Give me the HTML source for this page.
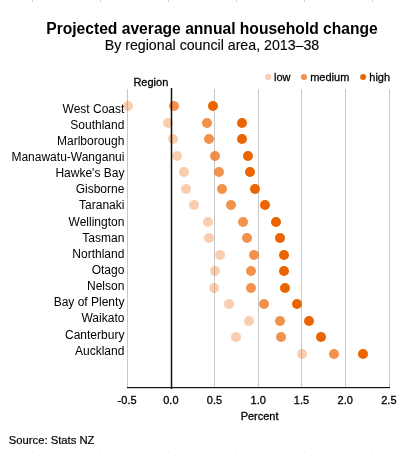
<!DOCTYPE html>
<html><head><meta charset="utf-8"><style>
html,body{margin:0;padding:0;background:#fff;}
body{width:406px;height:453px;overflow:hidden;position:relative;}
svg{position:absolute;left:0;top:0;will-change:transform;}
text{font-family:"Liberation Sans",sans-serif;fill:#000;}
</style></head><body>
<svg width="406" height="453" viewBox="0 0 406 453">

<rect x="32" y="0" width="1" height="2" fill="#d0d0d0"/>
<rect x="32" y="452" width="1" height="1" fill="#ddd"/>
<rect x="100" y="0" width="1" height="2" fill="#d0d0d0"/>
<rect x="100" y="452" width="1" height="1" fill="#ddd"/>
<rect x="168" y="0" width="1" height="2" fill="#d0d0d0"/>
<rect x="168" y="452" width="1" height="1" fill="#ddd"/>
<rect x="236" y="0" width="1" height="2" fill="#d0d0d0"/>
<rect x="236" y="452" width="1" height="1" fill="#ddd"/>
<rect x="304" y="0" width="1" height="2" fill="#d0d0d0"/>
<rect x="304" y="452" width="1" height="1" fill="#ddd"/>
<rect x="372" y="0" width="1" height="2" fill="#d0d0d0"/>
<rect x="372" y="452" width="1" height="1" fill="#ddd"/>
<text transform="translate(212,34) scale(0.93,1)" x="0" y="0" text-anchor="middle" font-weight="bold" font-size="16.8">Projected average annual household change</text>
<text x="212" y="49.8" text-anchor="middle" font-size="14.2" stroke="#000" stroke-width="0.12">By regional council area, 2013–38</text>
<circle cx="268.1" cy="77" r="3" fill="rgba(236,100,0,0.32)"/>
<text x="274.0" y="80.8" font-size="11" stroke="#000" stroke-width="0.28">low</text>
<circle cx="304" cy="77" r="3" fill="rgba(236,100,0,0.70)"/>
<text x="310.2" y="80.8" font-size="11" stroke="#000" stroke-width="0.28">medium</text>
<circle cx="363.1" cy="77" r="3" fill="rgb(236,100,0)"/>
<text x="369.3" y="80.8" font-size="11" stroke="#000" stroke-width="0.28">high</text>
<text x="133.4" y="85.8" font-size="11" stroke="#000" stroke-width="0.3">Region</text>
<rect x="127" y="89" width="1" height="298" fill="#c8c8c8"/>
<rect x="214" y="89" width="1" height="298" fill="#c8c8c8"/>
<rect x="258" y="89" width="1" height="298" fill="#c8c8c8"/>
<rect x="301" y="89" width="1" height="298" fill="#c8c8c8"/>
<rect x="345" y="89" width="1" height="298" fill="#c8c8c8"/>
<rect x="389" y="89" width="1" height="298" fill="#c8c8c8"/>
<text x="124.4" y="112.70" text-anchor="end" font-size="12">West Coast</text>
<text x="124.4" y="128.83" text-anchor="end" font-size="12">Southland</text>
<text x="124.4" y="144.96" text-anchor="end" font-size="12">Marlborough</text>
<text x="124.4" y="161.09" text-anchor="end" font-size="12">Manawatu-Wanganui</text>
<text x="124.4" y="177.22" text-anchor="end" font-size="12">Hawke&#39;s Bay</text>
<text x="124.4" y="193.35" text-anchor="end" font-size="12">Gisborne</text>
<text x="124.4" y="209.48" text-anchor="end" font-size="12">Taranaki</text>
<text x="124.4" y="225.61" text-anchor="end" font-size="12">Wellington</text>
<text x="124.4" y="241.74" text-anchor="end" font-size="12">Tasman</text>
<text x="124.4" y="257.87" text-anchor="end" font-size="12">Northland</text>
<text x="124.4" y="274.00" text-anchor="end" font-size="12">Otago</text>
<text x="124.4" y="290.13" text-anchor="end" font-size="12">Nelson</text>
<text x="124.4" y="306.26" text-anchor="end" font-size="12">Bay of Plenty</text>
<text x="124.4" y="322.39" text-anchor="end" font-size="12">Waikato</text>
<text x="124.4" y="338.52" text-anchor="end" font-size="12">Canterbury</text>
<text x="124.4" y="354.65" text-anchor="end" font-size="12">Auckland</text>
<circle cx="128" cy="106.00" r="5" fill="rgba(236,100,0,0.32)"/>
<circle cx="174" cy="106.00" r="5" fill="rgba(236,100,0,0.70)"/>
<circle cx="213" cy="106.00" r="5" fill="rgb(236,100,0)"/>
<circle cx="168" cy="123.00" r="5" fill="rgba(236,100,0,0.32)"/>
<circle cx="207" cy="123.00" r="5" fill="rgba(236,100,0,0.70)"/>
<circle cx="242" cy="123.00" r="5" fill="rgb(236,100,0)"/>
<circle cx="173" cy="139.00" r="5" fill="rgba(236,100,0,0.32)"/>
<circle cx="209" cy="139.00" r="5" fill="rgba(236,100,0,0.70)"/>
<circle cx="242" cy="139.00" r="5" fill="rgb(236,100,0)"/>
<circle cx="177" cy="156.00" r="5" fill="rgba(236,100,0,0.32)"/>
<circle cx="215" cy="156.00" r="5" fill="rgba(236,100,0,0.70)"/>
<circle cx="248" cy="156.00" r="5" fill="rgb(236,100,0)"/>
<circle cx="184" cy="172.00" r="5" fill="rgba(236,100,0,0.32)"/>
<circle cx="219" cy="172.00" r="5" fill="rgba(236,100,0,0.70)"/>
<circle cx="250" cy="172.00" r="5" fill="rgb(236,100,0)"/>
<circle cx="186" cy="189.00" r="5" fill="rgba(236,100,0,0.32)"/>
<circle cx="222" cy="189.00" r="5" fill="rgba(236,100,0,0.70)"/>
<circle cx="255" cy="189.00" r="5" fill="rgb(236,100,0)"/>
<circle cx="194" cy="205.00" r="5" fill="rgba(236,100,0,0.32)"/>
<circle cx="231" cy="205.00" r="5" fill="rgba(236,100,0,0.70)"/>
<circle cx="265" cy="205.00" r="5" fill="rgb(236,100,0)"/>
<circle cx="208" cy="222.00" r="5" fill="rgba(236,100,0,0.32)"/>
<circle cx="243" cy="222.00" r="5" fill="rgba(236,100,0,0.70)"/>
<circle cx="276" cy="222.00" r="5" fill="rgb(236,100,0)"/>
<circle cx="209" cy="238.00" r="5" fill="rgba(236,100,0,0.32)"/>
<circle cx="247" cy="238.00" r="5" fill="rgba(236,100,0,0.70)"/>
<circle cx="280" cy="238.00" r="5" fill="rgb(236,100,0)"/>
<circle cx="220" cy="255.00" r="5" fill="rgba(236,100,0,0.32)"/>
<circle cx="254" cy="255.00" r="5" fill="rgba(236,100,0,0.70)"/>
<circle cx="284" cy="255.00" r="5" fill="rgb(236,100,0)"/>
<circle cx="215" cy="271.00" r="5" fill="rgba(236,100,0,0.32)"/>
<circle cx="251" cy="271.00" r="5" fill="rgba(236,100,0,0.70)"/>
<circle cx="284" cy="271.00" r="5" fill="rgb(236,100,0)"/>
<circle cx="214" cy="288.00" r="5" fill="rgba(236,100,0,0.32)"/>
<circle cx="251" cy="288.00" r="5" fill="rgba(236,100,0,0.70)"/>
<circle cx="285" cy="288.00" r="5" fill="rgb(236,100,0)"/>
<circle cx="229" cy="304.00" r="5" fill="rgba(236,100,0,0.32)"/>
<circle cx="264" cy="304.00" r="5" fill="rgba(236,100,0,0.70)"/>
<circle cx="297" cy="304.00" r="5" fill="rgb(236,100,0)"/>
<circle cx="249" cy="321.00" r="5" fill="rgba(236,100,0,0.32)"/>
<circle cx="280" cy="321.00" r="5" fill="rgba(236,100,0,0.70)"/>
<circle cx="309" cy="321.00" r="5" fill="rgb(236,100,0)"/>
<circle cx="236" cy="337.00" r="5" fill="rgba(236,100,0,0.32)"/>
<circle cx="281" cy="337.00" r="5" fill="rgba(236,100,0,0.70)"/>
<circle cx="321" cy="337.00" r="5" fill="rgb(236,100,0)"/>
<circle cx="302" cy="354.00" r="5" fill="rgba(236,100,0,0.32)"/>
<circle cx="334" cy="354.00" r="5" fill="rgba(236,100,0,0.70)"/>
<circle cx="363" cy="354.00" r="5" fill="rgb(236,100,0)"/>
<rect x="170.75" y="88" width="1.5" height="301" fill="#111"/>
<rect x="127" y="387" width="263" height="1.2" fill="#111"/>
<text x="127.1" y="404.1" text-anchor="middle" font-size="11" stroke="#000" stroke-width="0.3">-0.5</text>
<text x="170.9" y="404.1" text-anchor="middle" font-size="11" stroke="#000" stroke-width="0.3">0.0</text>
<text x="214.5" y="404.1" text-anchor="middle" font-size="11" stroke="#000" stroke-width="0.3">0.5</text>
<text x="258.2" y="404.1" text-anchor="middle" font-size="11" stroke="#000" stroke-width="0.3">1.0</text>
<text x="301.5" y="404.1" text-anchor="middle" font-size="11" stroke="#000" stroke-width="0.3">1.5</text>
<text x="345.2" y="404.1" text-anchor="middle" font-size="11" stroke="#000" stroke-width="0.3">2.0</text>
<text x="388.9" y="404.1" text-anchor="middle" font-size="11" stroke="#000" stroke-width="0.3">2.5</text>
<text x="259.6" y="419.8" text-anchor="middle" font-size="11" stroke="#000" stroke-width="0.3">Percent</text>
<text x="8.8" y="444.2" font-size="11.25" stroke="#000" stroke-width="0.2">Source: Stats NZ</text>
</svg></body></html>
